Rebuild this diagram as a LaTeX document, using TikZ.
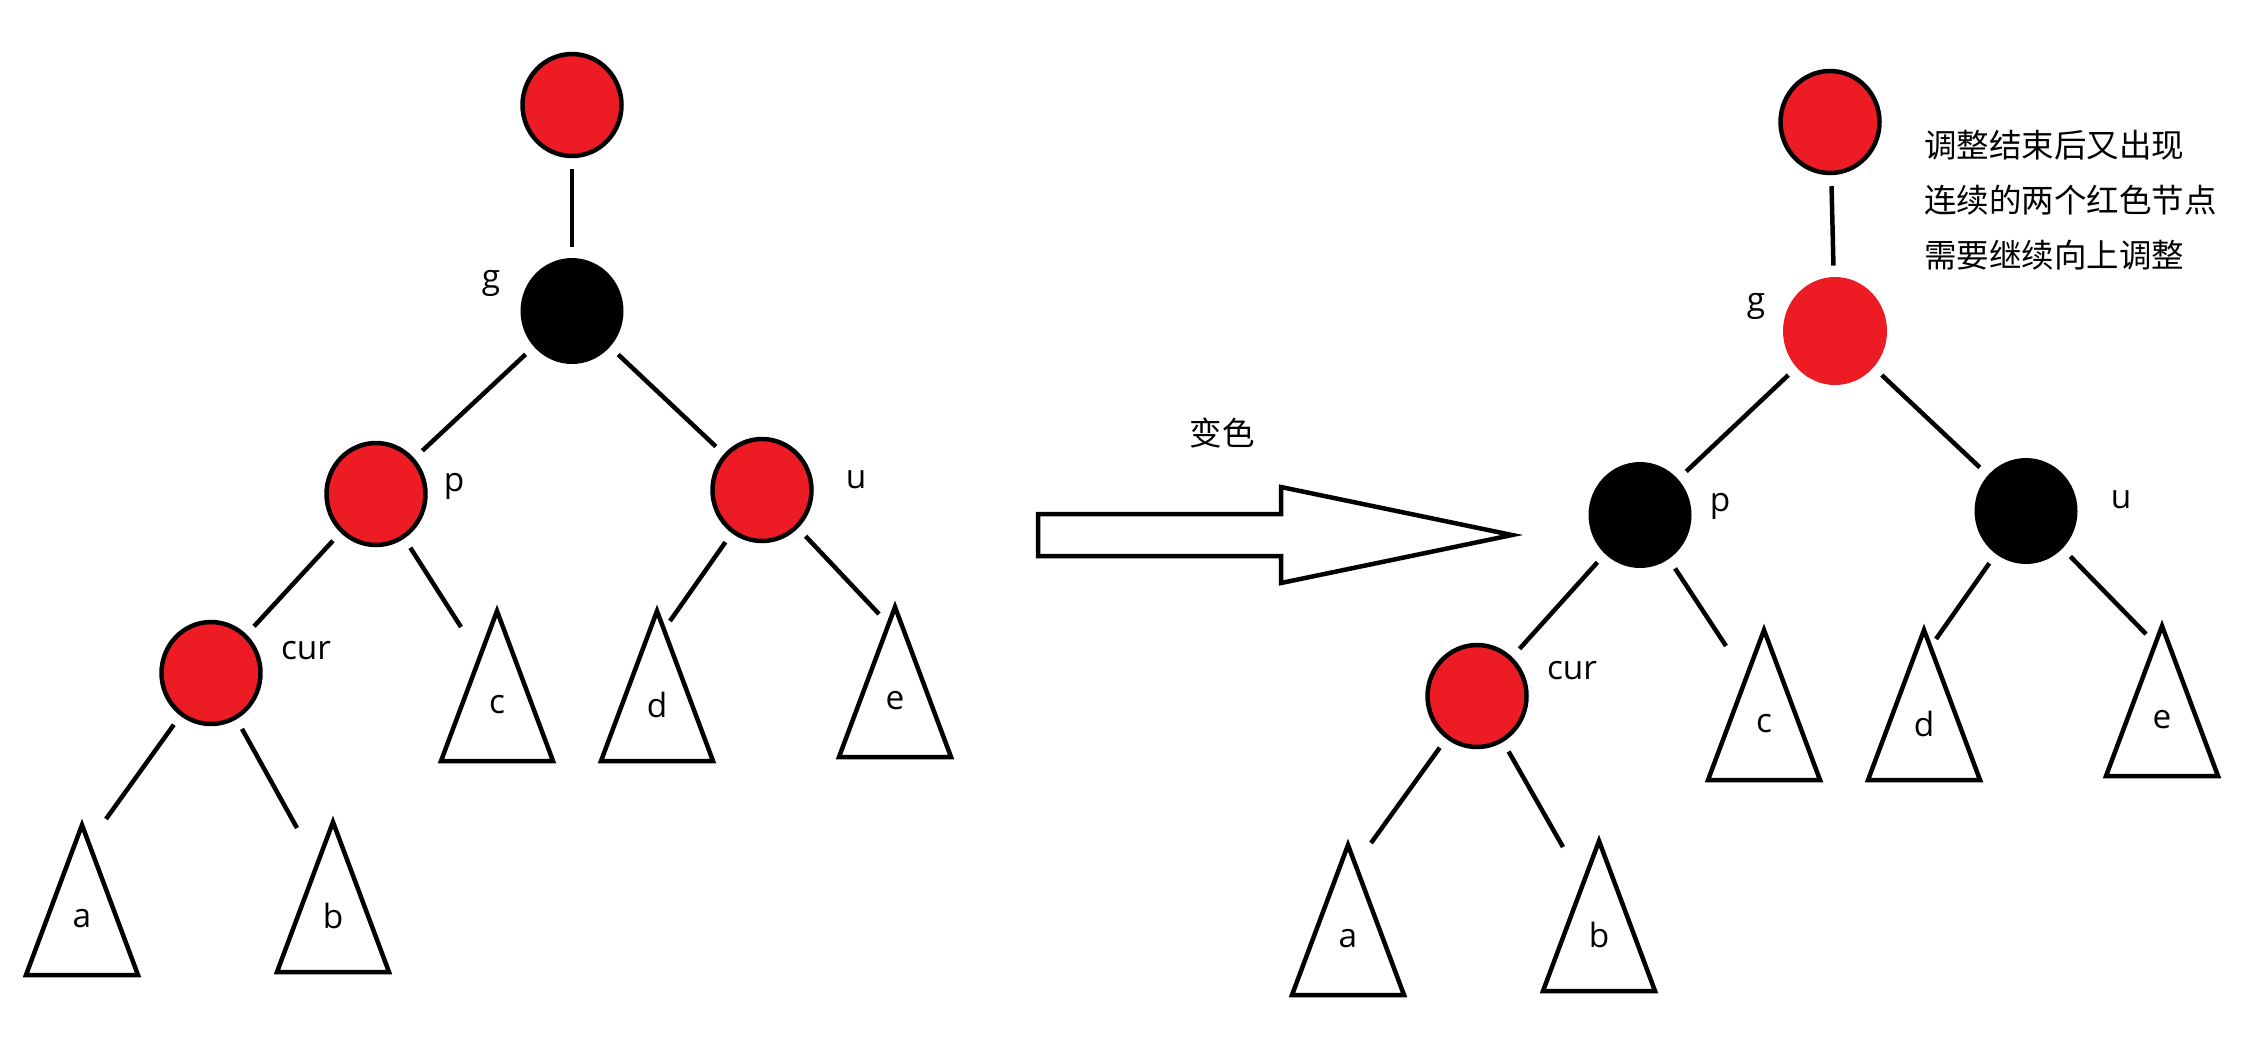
\documentclass[tikz,border=0pt]{standalone}
\usepackage{fontspec}
\setmainfont{Open Sans}
\newfontfamily\cjk{Noto Sans CJK SC}
\usetikzlibrary{shapes.geometric}
\definecolor{rbred}{HTML}{ED1C24}

\begin{document}
\begin{tikzpicture}[
    x=0.02cm, y=-0.02cm,
    every node/.style={font=\fontsize{19pt}{23pt}\selectfont},
    rbnode/.style={ellipse, inner sep=0pt, minimum width=1.98cm, minimum height=2.04cm},
    rednode/.style={rbnode, draw=black, line width=0.09cm, fill=rbred},
    blacknode/.style={rbnode, fill=black, minimum width=2.06cm, minimum height=2.12cm},
    flatred/.style={rbnode, fill=rbred, minimum width=2.08cm, minimum height=2.16cm},
    link/.style={line width=0.09cm, shorten <=0.22cm, shorten >=0.22cm},
    leaflink/.style={link, shorten >=0pt},
    subtree/.style={draw, line width=0.09cm},
    tag/.style={inner sep=0pt},
    cjktext/.style={tag, font=\cjk\fontsize{18.5pt}{31.3pt}\selectfont}
  ]
  \useasboundingbox (0,0) rectangle (2253,1039);

  % before recolouring
  \node[rednode] (lroot) at (572,105) {};
  \node[blacknode] (lg) at (572,311) {};
  \node[rednode] (lp) at (376,494) {};
  \node[rednode] (lu) at (762,490) {};
  \node[rednode] (lcur) at (211,673) {};
  \node[tag] (lg-name) at (491,283) {g};
  \node[tag] (lp-name) at (454,486) {p};
  \node[tag] (lu-name) at (856,480) {u};
  \node[tag] (lcur-name) at (306,651) {cur};

  % after recolouring
  \node[rednode] (rroot) at (1830,122) {};
  \node[flatred] (rg) at (1835,331) {};
  \node[blacknode] (rp) at (1640,515) {};
  \node[blacknode] (ru) at (2026,511) {};
  \node[rednode] (rcur) at (1477,696) {};
  \node[tag] (rg-name) at (1756,306) {g};
  \node[tag] (rp-name) at (1720,506) {p};
  \node[tag] (ru-name) at (2121,500) {u};
  \node[tag] (rcur-name) at (1572,671) {cur};

  % subtrees a..e
  \foreach \n/\x/\y/\t/\dx/\dy in {la/82/822/a/24/-3, lb/333/819/b/-36/9,
      lc/497/608/c/-36/19, ld/657/608/d/13/13, le/895/604/e/-16/10,
      ra/1348/842/a/23/1, rb/1599/838/b/-36/9, rc/1764/627/c/-38/19,
      rd/1924/627/d/12/12, re/2162/623/e/-16/11}{
    \draw[subtree] (\x,\y+3) -- ++(-56,150) -- ++(112,0) -- cycle;
    \node[tag] (\n) at (\x,\y+97) {\t};
    \coordinate (\n-in) at (\x+\dx,\y+\dy);
  }

  \draw[link] (lroot) -- (lg);
  \draw[link] (lg) -- (lp);
  \draw[link] (lg) -- (lu);
  \draw[link] (lp) -- (lcur);
  \draw[leaflink] (lp) -- (lc-in);
  \draw[leaflink] (lu) -- (ld-in);
  \draw[leaflink] (lu) -- (le-in);
  \draw[leaflink] (lcur) -- (la-in);
  \draw[leaflink] (lcur) -- (lb-in);

  \draw[link] (rroot) -- (rg);
  \draw[link] (rg) -- (rp);
  \draw[link] (rg) -- (ru);
  \draw[link] (rp) -- (rcur);
  \draw[leaflink] (rp) -- (rc-in);
  \draw[leaflink] (ru) -- (rd-in);
  \draw[leaflink] (ru) -- (re-in);
  \draw[leaflink] (rcur) -- (ra-in);
  \draw[leaflink] (rcur) -- (rb-in);

  % block arrow
  \draw[line width=0.09cm] (1038,514) -- (1281,514) -- (1281,487) -- (1512,535)
    -- (1281,583) -- (1281,556) -- (1038,556) -- cycle;
  \node[cjktext] (recolor) at (1222,433) {变色};

  \node[cjktext, anchor=west, align=left] (note) at (1924,200)
    {调整结束后又出现\\连续的两个红色节点\\需要继续向上调整};
\end{tikzpicture}
\end{document}
